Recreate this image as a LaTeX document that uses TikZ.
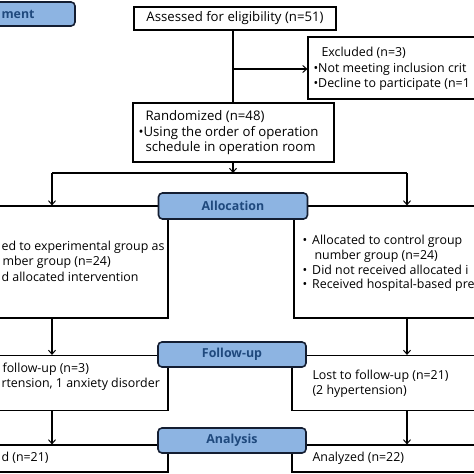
\documentclass[tikz,border=0pt]{standalone}
\usepackage{fontspec}
\setmainfont{Open Sans}
\usetikzlibrary{arrows.meta}

\tikzset{every picture/.style={line width=1.1pt}}
\tikzset{
  whitebox/.style={draw, fill=white, inner sep=0pt},
  stagebox/.style={draw={rgb,255:red,20;green,30;blue,50}, line width=1.6pt, rounded corners=4pt,
    fill={rgb,255:red,141;green,180;blue,226}, inner sep=0pt, minimum width=149pt, minimum height=26pt,
    text={rgb,255:red,31;green,73;blue,125}, font=\fontsize{12.4}{14}\selectfont\bfseries},
  txt/.style={anchor=west, inner sep=0pt, align=left, font=\fontsize{12.4}{15}\selectfont},
  flowarrow/.style={-{Straight Barb[length=4pt,width=7pt,line width=1pt]}}
}

\begin{document}
\begin{tikzpicture}[x=1pt,y=1pt,yscale=-1,xscale=1]
\clip (0,0) rectangle (474,474);
\fill[white] (0,0) rectangle (474,474);

%Shape: Enrollment [id:enroll]
\node [stagebox, minimum width=150pt, minimum height=24pt] (enroll) at (0,14) {};
% Text Node
\draw (1,14) node [anchor=west][inner sep=0pt][text={rgb,255:red,31;green,73;blue,125}, font=\fontsize{12.4}{14}\selectfont\bfseries] (enrolltxt) {ment};

%Shape: Assessed [id:assess]
\node [whitebox, minimum width=202pt, minimum height=23pt, font=\fontsize{13.2}{14}\selectfont] (assess) at (235,18.5) {Assessed for eligibility (n=51)};

%Shape: Excluded [id:excl]
\node [whitebox, minimum width=200pt, minimum height=62pt] (excl) at (408,68) {};
\draw (321,53) node [txt] (excltxt) {Excluded (n=3)};
\draw (313,69) node [txt] (exclone) {\textbullet Not meeting inclusion crit};
\draw (313,84) node [txt] (excltwo) {\textbullet Decline to participate (n=1};

%Shape: Randomized [id:rand]
\node [whitebox, minimum width=201pt, minimum height=59pt] (rand) at (233.5,132.5) {};
\draw (145,117) node [txt, font=\fontsize{13.2}{15}\selectfont] (randtxt) {Randomized (n=48)};
\draw (138,133) node [txt, font=\fontsize{13.2}{15}\selectfont] (randone) {\textbullet Using the order of operation};
\draw (145,148) node [txt, font=\fontsize{13.2}{15}\selectfont] (randtwo) {schedule in operation room};

%Shape: allocation boxes [id:lftA, rgtA]
\node [whitebox, minimum width=200pt, minimum height=112pt] (lftA) at (68,262) {};
\draw (1,247) node [txt] (lftAone) {ed to experimental group as};
\draw (2,262) node [txt] (lftAtwo) {mber group (n=24)};
\draw (1,277) node [txt] (lftAthree) {d allocated intervention};
\node [whitebox, minimum width=200pt, minimum height=112pt] (rgtA) at (394,262) {};
\draw (302,241) node [txt] (rgtAone) {\textbullet\hspace{5pt}Allocated to control group};
\draw (314,256) node [txt] (rgtAtwo) {number group (n=24)};
\draw (302,270) node [txt] (rgtAthree) {\textbullet\hspace{5pt}Did not received allocated i};
\draw (302,285) node [txt] (rgtAfour) {\textbullet\hspace{5pt}Received hospital-based pre};

%Shape: follow-up boxes [id:lftF, rgtF]
\node [whitebox, minimum width=200pt, minimum height=55pt] (lftF) at (68,383) {};
\draw (2,369) node [txt] (lftFone) {follow-up (n=3)};
\draw (1,384) node [txt] (lftFtwo) {rtension, 1 anxiety disorder};
\node [whitebox, minimum width=200pt, minimum height=55pt] (rgtF) at (392,383) {};
\draw (312,376) node [txt] (rgtFone) {Lost to follow-up (n=21)};
\draw (312,391) node [txt] (rgtFtwo) {(2 hypertension)};

%Shape: analysis boxes [id:lftN, rgtN]
\node [whitebox, minimum width=200pt, minimum height=27pt] (lftN) at (68,458.5) {};
\draw (1,458) node [txt] (lftNone) {d (n=21)};
\node [whitebox, minimum width=200pt, minimum height=27pt] (rgtN) at (392,458.5) {};
\draw (312,458) node [txt] (rgtNone) {Analyzed (n=22)};

%Shape: stage boxes
\node [stagebox] (alloc) at (233,206) {Allocation};
\node [stagebox, minimum width=148pt, minimum height=25pt] (follow) at (232,354.5) {Follow-up};
\node [stagebox, minimum width=148pt, minimum height=25pt] (analysis) at (232,440.5) {Analysis};

%Connectors
\coordinate (exclsplit) at (233,69);
\coordinate (randsplit) at (233,173);
\coordinate (splitL) at (52,173);
\coordinate (splitR) at (407,173);
\draw (assess.south -| exclsplit) -- (rand.north -| exclsplit) ;
\draw [flowarrow] (exclsplit) -- (exclsplit -| excl.west) ;
\draw [flowarrow] (rand.south -| randsplit) -- (randsplit) ;
\draw (splitL) -- (splitR) ;
\draw [flowarrow] (splitL) -- (splitL |- lftA.north) ;
\draw [flowarrow] (splitR) -- (splitR |- rgtA.north) ;
\draw [flowarrow] (lftA.south -| splitL) -- (lftF.north -| splitL) ;
\draw [flowarrow] (rgtA.south -| splitR) -- (rgtF.north -| splitR) ;
\draw [flowarrow] (lftF.south -| splitL) -- (lftN.north -| splitL) ;
\draw [flowarrow] (rgtF.south -| splitR) -- (rgtN.north -| splitR) ;

\end{tikzpicture}
\end{document}
